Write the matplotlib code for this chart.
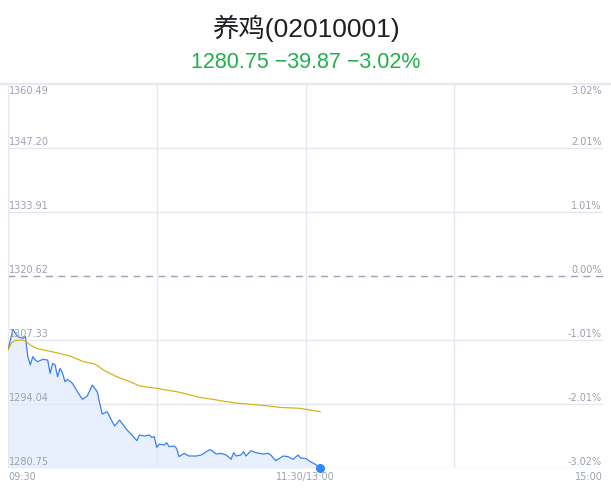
import matplotlib
matplotlib.use("Agg")
import matplotlib.pyplot as plt

plt.rcParams['font.family'] = ['Noto Sans CJK SC', 'DejaVu Sans']

# 前收盘与当日涨跌
prev_close = 1320.62
last_price = 1280.75
change = -39.87
change_pct = -3.02

# 分时价格 (分钟, 价格)
minutes = [0, 1, 2, 3, 4, 6, 7, 8, 9, 10, 11, 12, 14, 16, 17, 18, 19, 20, 21, 22,
           23, 24, 26, 28, 30, 32, 34, 36, 37, 38, 40, 41, 43, 45, 46, 48, 50, 52,
           53, 55, 57, 58, 59, 60, 61, 63, 64, 65, 67, 68, 69, 71, 73, 76, 78, 81,
           82, 84, 86, 88, 90, 91, 92, 94, 95, 96, 98, 100, 103, 105, 106, 108,
           111, 113, 115, 117, 118, 120, 122, 124, 126]
prices = [1305.39, 1307.33, 1309.54, 1308.71, 1308.02, 1307.67, 1308.02, 1303.87,
          1302.14, 1303.87, 1303.17, 1302.83, 1303.31, 1303.17, 1300.41, 1302.48,
          1302.14, 1299.71, 1301.44, 1300.41, 1298.67, 1299.16, 1298.33, 1296.60,
          1295.01, 1295.70, 1297.98, 1296.60, 1294.18, 1291.96, 1292.44, 1291.41,
          1289.47, 1290.71, 1290.02, 1288.64, 1287.60, 1286.42, 1287.60, 1287.39,
          1287.60, 1287.11, 1287.25, 1285.04, 1285.73, 1285.52, 1286.01, 1285.18,
          1285.32, 1284.83, 1283.10, 1283.79, 1283.24, 1283.24, 1283.45, 1284.48,
          1284.48, 1283.65, 1283.79, 1283.45, 1282.55, 1283.93, 1283.24, 1283.45,
          1284.14, 1283.24, 1284.35, 1283.93, 1283.65, 1283.79, 1283.45, 1282.27,
          1283.24, 1283.10, 1282.55, 1283.45, 1282.82, 1282.75, 1282.06, 1281.51,
          1280.75]

# 均价线
avg_minutes = [0, 1.5, 2.8, 4.8, 6.9, 8.9, 11.6, 15.6, 19.6, 22.3, 25.7, 30.4, 35.1,
               38.5, 43.8, 49.2, 53.2, 60, 68, 72.1, 77.4, 84.2, 90.9, 97.6, 104.3,
               109.7, 117.8, 121.8, 125.9]
avg_prices = [1305.25, 1306.77, 1307.19, 1307.33, 1307.19, 1306.29, 1305.60, 1305.11,
              1304.70, 1304.35, 1303.87, 1302.83, 1302.34, 1301.10, 1299.71, 1298.67,
              1297.77, 1297.29, 1296.60, 1296.11, 1295.42, 1294.87, 1294.31, 1293.97,
              1293.69, 1293.34, 1293.14, 1292.79, 1292.45]

price_ticks = [1280.75, 1294.04, 1307.33, 1320.62, 1333.91, 1347.20, 1360.49]
pct_ticks = ["-3.02%", "-2.01%", "-1.01%", "0.00%", "1.01%", "2.01%", "3.02%"]
time_ticks = [0, 120, 240]
time_labels = ["09:30", "11:30/13:00", "15:00"]

grid_c = "#e6e8ef"
label_c = "#9ba1b2"
blue = "#3a7ff2"
yellow = "#d6b41c"

W, H = 611, 492
fig = plt.figure(figsize=(W / 100, H / 100), dpi=100)
ax = fig.add_axes([8 / W, (H - 468) / H, 595 / W, 384 / H])
ax.set_xlim(0, 240)
ax.set_ylim(price_ticks[0], price_ticks[-1])
ax.axis("off")

# 网格
for i, v in enumerate(price_ticks):
    if v == prev_close:
        ax.axhline(v, color="#9aa3b8", lw=1, ls=(0, (5, 4)))
    elif i == len(price_ticks) - 1:
        pass
    else:
        ax.axhline(v, color=grid_c, lw=1)
for t in [0, 60, 120, 180]:
    ax.axvline(t, color=grid_c, lw=1)

# 顶部分隔线
fig.add_artist(plt.Line2D([0, 1], [(H - 83.5) / H] * 2, color="#e8e9ee", lw=1.6))

# 价格与均价
ax.fill_between(minutes, prices, price_ticks[0], color="#e9f0fd", lw=0)
ax.plot(minutes, prices, color=blue, lw=0.9)
ax.plot(avg_minutes, avg_prices, color=yellow, lw=0.9)
ax.scatter([minutes[-1]], [prices[-1]], s=30, color="#2f86f6", zorder=5, clip_on=False)

# 坐标标签
ytr = ax.get_yaxis_transform()
for i, (v, p) in enumerate(zip(price_ticks, pct_ticks)):
    va = "top" if i == len(price_ticks) - 1 else "bottom"
    dy = -0.32 if va == "top" else 0.24
    ax.text(0.002, v + dy, f"{v:.2f}", transform=ytr, ha="left", va=va,
            fontsize=7, color=label_c, family=["DejaVu Sans"])
    ax.text(0.998, v + dy, p, transform=ytr, ha="right", va=va,
            fontsize=7, color=label_c, family=["DejaVu Sans"])

xtr = ax.get_xaxis_transform()
for t, lab in zip(time_ticks, time_labels):
    ha = {0: "left", 120: "center", 240: "right"}[t]
    ax.text(t, -0.01, lab, transform=xtr, ha=ha, va="top", fontsize=7,
            color=label_c, family=["DejaVu Sans"])

# 标题
fig.text(0.5, 1 - 37 / H, "养鸡(02010001)", ha="center", va="baseline",
         fontsize=19, color="#1f1f24", family=["Liberation Sans", "Noto Sans CJK SC"])
fig.text(0.5, 1 - 68.5 / H,
         f"{last_price:.2f} \u2212{abs(change):.2f} \u2212{abs(change_pct):.2f}%",
         ha="center", va="baseline", fontsize=15.5, color="#20b04a",
         family=["Liberation Sans", "DejaVu Sans"])

fig.savefig("out.png", dpi=100)
